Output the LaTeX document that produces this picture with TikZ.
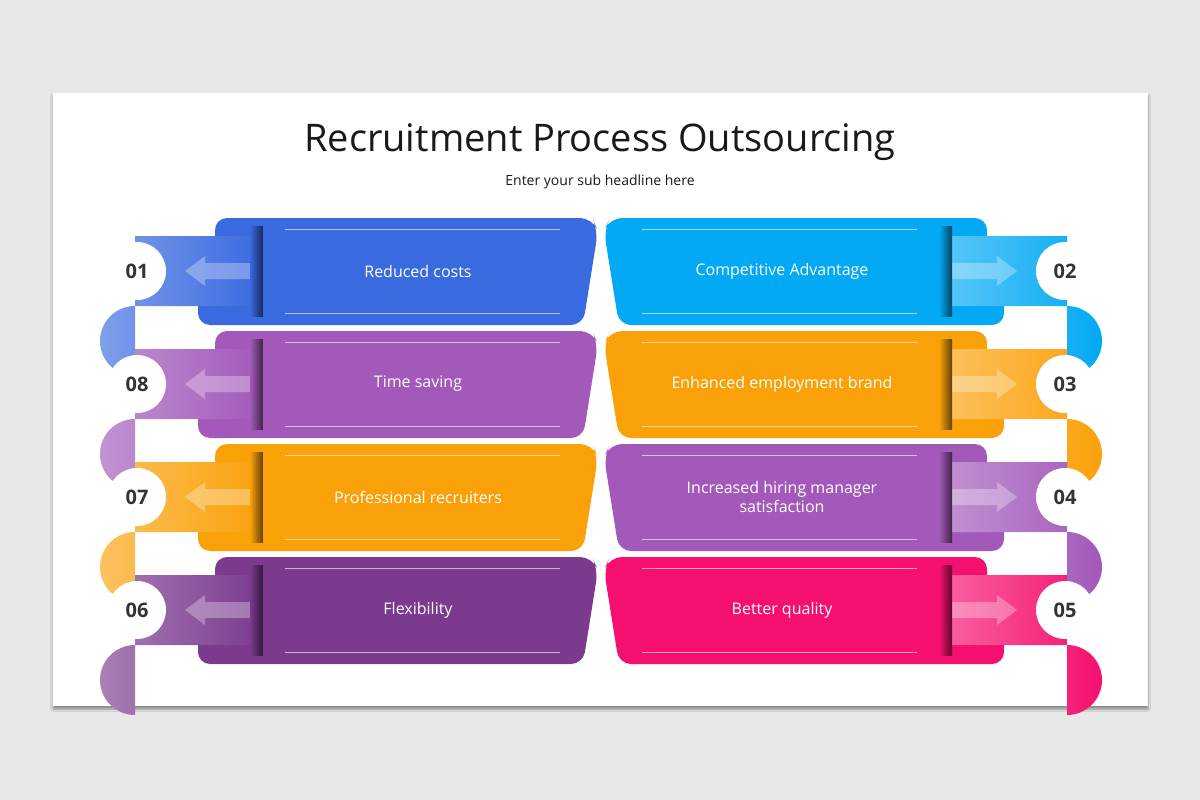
\documentclass[tikz,border=0pt]{standalone}
\usepackage{fontspec}
\setmainfont{Open Sans}
\usetikzlibrary{shadows.blur}
\definecolor{cBlue}{HTML}{3A6AE0}
\definecolor{cCyan}{HTML}{03A9F4}
\definecolor{cPurple}{HTML}{A259BA}
\definecolor{cOrange}{HTML}{FAA10A}
\definecolor{cViolet}{HTML}{7B3A8E}
\definecolor{cPink}{HTML}{F50F6E}
\tikzset{
  numtxt/.style={font=\fontsize{20}{22}\selectfont\bfseries, text=black!80},
  lbl/.style={font=\fontsize{16}{19}\selectfont, text=white, align=center},
}
\newcommand{\rowshape}[2]{% #1 = center y, #2 = colour
  \fill[#2, rounded corners=12] (215,#1-53) -- (592,#1-53) -- (598,#1-40) -- (583,#1+54) -- (198,#1+54) -- (198,#1+20) -- (215,#1-20) -- cycle;
  \shade[left color=#2!65!white, right color=#2] (135,#1-35) -- (262,#1-35) -- (262,#1+35) -- (135,#1+35) arc[start angle=270, end angle=90, radius=35] -- cycle;
  \fill[white, opacity=0.3] (185,#1) -- (205,#1-15) -- (205,#1-8) -- (262,#1-8) -- (262,#1+8) -- (205,#1+8) -- (205,#1+15) -- cycle;
  \shade[left color=#2, right color=black!60!#2] (250,#1-45) rectangle (263,#1+45);
  \fill[#2] (263,#1-45) rectangle (300,#1+45);
  \draw[white, opacity=0.6, line width=0.8] (285,#1-42) -- (560,#1-42);
  \draw[white, opacity=0.6, line width=0.8] (285,#1+42) -- (560,#1+42);
}
\begin{document}
\begin{tikzpicture}[x=1pt,y=-1pt]
\useasboundingbox (0,0) rectangle (1200,800);
\fill[black!9] (0,0) rectangle (1200,800);
\fill[white, blur shadow={shadow blur steps=6, shadow xshift=0pt, shadow yshift=-3pt}] (53,93) rectangle (1148,706);
\node[font=\fontsize{38}{44}\selectfont, text=black!90] (title) at (600,142) {Recruitment Process Outsourcing};
\node[font=\fontsize{14}{17}\selectfont, text=black!90] (sub) at (600,182) {Enter your sub headline here};
% left rows
\rowshape{271}{cBlue}
\rowshape{384}{cPurple}
\rowshape{497}{cOrange}
\rowshape{610}{cViolet}
% right rows mirrored
\begin{scope}[xshift=1202pt, xscale=-1]
\rowshape{271}{cCyan}
\rowshape{384}{cOrange}
\rowshape{497}{cPurple}
\rowshape{610}{cPink}
\end{scope}
% circles & numbers
\foreach \n/\x/\y in {01/137/271, 08/137/384, 07/137/497, 06/137/610, 02/1065/271, 03/1065/384, 04/1065/497, 05/1065/610}{
  \node[circle, fill=white, minimum size=58pt, inner sep=0pt, numtxt] (n\n) at (\x,\y) {\n};
}
\node[lbl] (l1) at (418,271) {Reduced costs};
\node[lbl] (l8) at (418,384) {Time saving};
\node[lbl] (l7) at (418,497) {Professional recruiters};
\node[lbl] (l6) at (418,610) {Flexibility};
\node[lbl] (l2) at (782,271) {Competitive Advantage};
\node[lbl] (l3) at (782,384) {Enhanced employment brand};
\node[lbl] (l4) at (782,497) {Increased hiring manager\\satisfaction};
\node[lbl] (l5) at (782,610) {Better quality};
\end{tikzpicture}
\end{document}
